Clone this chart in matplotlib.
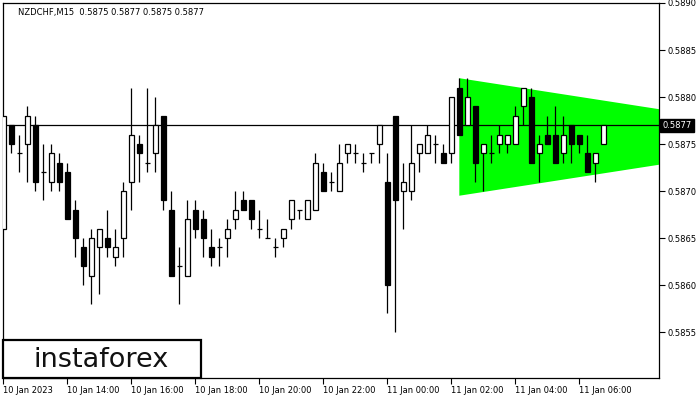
import matplotlib
matplotlib.use("Agg")
import matplotlib.pyplot as plt
import matplotlib.transforms as mtransforms
from matplotlib.patches import Rectangle, Polygon

# ---- data (NZDCHF M15, from 10 Jan 2023 12:00) ----
opens = [0.5866, 0.5877, 0.5874, 0.5875, 0.5877, 0.5872, 0.5871, 0.5873, 0.5872, 0.5868,
         0.5864, 0.5861, 0.5864, 0.5865, 0.5863, 0.5865, 0.5871, 0.5875, 0.5873, 0.5874,
         0.5878, 0.5868, 0.5862, 0.5861, 0.5868, 0.5867, 0.5864, 0.5864, 0.5865, 0.5867,
         0.5869, 0.5869, 0.5866, 0.5865, 0.5864, 0.5865, 0.5867, 0.5868, 0.5867, 0.5868,
         0.5872, 0.5871, 0.5870, 0.5874, 0.5874, 0.5873, 0.5874, 0.5875, 0.5871, 0.5878,
         0.5870, 0.5870, 0.5874, 0.5874, 0.5875, 0.5874, 0.5874, 0.5881, 0.5877, 0.5879,
         0.5874, 0.5874, 0.5875, 0.5875, 0.5875, 0.5879, 0.5880, 0.5874, 0.5876, 0.5876,
         0.5874, 0.5877, 0.5876, 0.5874, 0.5873, 0.5875]
highs = [0.5878, 0.5877, 0.5876, 0.5879, 0.5878, 0.5875, 0.5875, 0.5874, 0.5873, 0.5869,
         0.5865, 0.5866, 0.5866, 0.5868, 0.5866, 0.5871, 0.5881, 0.5876, 0.5881, 0.5880,
         0.5878, 0.5870, 0.5864, 0.5869, 0.5869, 0.5868, 0.5866, 0.5865, 0.5867, 0.5870,
         0.5870, 0.5869, 0.5868, 0.5867, 0.5865, 0.5866, 0.5869, 0.5868, 0.5869, 0.5874,
         0.5873, 0.5872, 0.5875, 0.5875, 0.5875, 0.5874, 0.5874, 0.5877, 0.5874, 0.5878,
         0.5873, 0.5877, 0.5875, 0.5877, 0.5876, 0.5875, 0.5880, 0.5882, 0.5882, 0.5879,
         0.5875, 0.5876, 0.5877, 0.5876, 0.5879, 0.5881, 0.5881, 0.5876, 0.5878, 0.5879,
         0.5878, 0.5877, 0.5876, 0.5876, 0.5874, 0.5877]
lows = [0.5866, 0.5874, 0.5872, 0.5871, 0.5870, 0.5869, 0.5870, 0.5870, 0.5867, 0.5863,
        0.5860, 0.5858, 0.5859, 0.5863, 0.5862, 0.5863, 0.5868, 0.5871, 0.5872, 0.5872,
        0.5868, 0.5861, 0.5858, 0.5861, 0.5865, 0.5863, 0.5862, 0.5862, 0.5863, 0.5866,
        0.5868, 0.5866, 0.5865, 0.5865, 0.5863, 0.5864, 0.5866, 0.5867, 0.5867, 0.5868,
        0.5870, 0.5870, 0.5870, 0.5873, 0.5873, 0.5872, 0.5873, 0.5873, 0.5857, 0.5855,
        0.5866, 0.5869, 0.5872, 0.5874, 0.5873, 0.5873, 0.5873, 0.5876, 0.5877, 0.5871,
        0.5870, 0.5873, 0.5874, 0.5874, 0.5875, 0.5877, 0.5873, 0.5871, 0.5875, 0.5873,
        0.5873, 0.5873, 0.5874, 0.5872, 0.5871, 0.5875]
closes = [0.5878, 0.5875, 0.5874, 0.5878, 0.5871, 0.5872, 0.5874, 0.5871, 0.5867, 0.5865,
          0.5862, 0.5865, 0.5866, 0.5864, 0.5864, 0.5870, 0.5876, 0.5874, 0.5873, 0.5877,
          0.5869, 0.5861, 0.5862, 0.5867, 0.5866, 0.5865, 0.5863, 0.5864, 0.5866, 0.5868,
          0.5868, 0.5867, 0.5866, 0.5865, 0.5864, 0.5866, 0.5869, 0.5868, 0.5869, 0.5873,
          0.5870, 0.5871, 0.5873, 0.5875, 0.5874, 0.5873, 0.5874, 0.5877, 0.5860, 0.5869,
          0.5871, 0.5873, 0.5875, 0.5876, 0.5875, 0.5873, 0.5880, 0.5876, 0.5880, 0.5873,
          0.5875, 0.5874, 0.5876, 0.5876, 0.5878, 0.5881, 0.5873, 0.5875, 0.5875, 0.5873,
          0.5876, 0.5875, 0.5875, 0.5872, 0.5874, 0.5877]

x_tick_pos = [0, 8, 16, 24, 32, 40, 48, 56, 64, 72]
x_tick_labels = ["10 Jan 2023", "10 Jan 14:00", "10 Jan 16:00", "10 Jan 18:00",
                 "10 Jan 20:00", "10 Jan 22:00", "11 Jan 00:00", "11 Jan 02:00",
                 "11 Jan 04:00", "11 Jan 06:00"]
y_ticks = [0.5855, 0.5860, 0.5865, 0.5870, 0.5875, 0.5880, 0.5885, 0.5890]

# triangle pattern (symmetric triangle)
tri_x = [57.0, 82.0]
tri_top = [0.58820, 0.58787]
tri_bot = [0.58695, 0.58728]

last_price = 0.5877
title = "NZDCHF,M15  0.5875 0.5877 0.5875 0.5877"

# ---- figure ----
W, H = 700, 400
fig = plt.figure(figsize=(W / 100, H / 100), dpi=100)
ax = fig.add_axes([2.7 / W, 1 - 378 / H, (659 - 2.7) / W, (378 - 3) / H])
ax.set_xlim(-0.08, 81.96)
ax.set_ylim(0.585011, 0.5890)

FS = 6.0

# triangle
poly = Polygon([[tri_x[0], tri_top[0]], [tri_x[1], tri_top[1]],
                [tri_x[1], tri_bot[1]], [tri_x[0], tri_bot[0]]],
               closed=True, facecolor="#00ff00", edgecolor="none", zorder=1)
ax.add_patch(poly)

# last price line
ax.axhline(last_price, color="black", lw=0.9, zorder=2)

# candles
bw = 0.6
for i, (o, h, l, c) in enumerate(zip(opens, highs, lows, closes)):
    ax.vlines(i, l, h, color="black", lw=0.9, zorder=3)
    if abs(c - o) < 1e-9:
        ax.hlines(o, i - bw / 2, i + bw / 2, color="black", lw=0.9, zorder=4)
    else:
        fc = "white" if c > o else "black"
        ax.add_patch(Rectangle((i - bw / 2, min(o, c)), bw, abs(c - o),
                               facecolor=fc, edgecolor="black", lw=0.9, zorder=4))

# axes styling
for s in ax.spines.values():
    s.set_color("black")
    s.set_linewidth(0.9)
ax.yaxis.tick_right()
ax.set_yticks(y_ticks)
ax.set_yticklabels([f"{v:.4f}" for v in y_ticks])
ax.tick_params(axis="y", direction="out", length=4, width=0.8, pad=2, labelsize=FS)
ax.set_xticks(x_tick_pos)
ax.set_xticklabels(x_tick_labels, ha="left")
ax.tick_params(axis="x", direction="out", length=4, width=0.8, pad=1.5, labelsize=FS)

# title text
ax.text(18 / W * W / (659 - 2.7) - 2.7 / (659 - 2.7), 1 - 9 / 375, title,
        transform=ax.transAxes, fontsize=FS, ha="left", va="center", color="black")

# current price label
trans = mtransforms.blended_transform_factory(ax.transAxes, ax.transData)
ax.text(1.005, last_price, f"{last_price:.4f}", transform=trans, fontsize=FS,
        color="white", ha="left", va="center",
        bbox=dict(boxstyle="square,pad=0.25", facecolor="black", edgecolor="black"))

# instaforex logo box
fig.patches.append(Rectangle((3 / W, 1 - 378 / H), 198 / W, 38 / H,
                             transform=fig.transFigure, facecolor="white",
                             edgecolor="black", lw=1.6, zorder=10))
fig.text(101 / W, 1 - 360 / H, "instaforex", fontsize=19.5, ha="center",
         va="center", color="#111111", zorder=11)

fig.savefig("out.png", dpi=100, facecolor="white")
